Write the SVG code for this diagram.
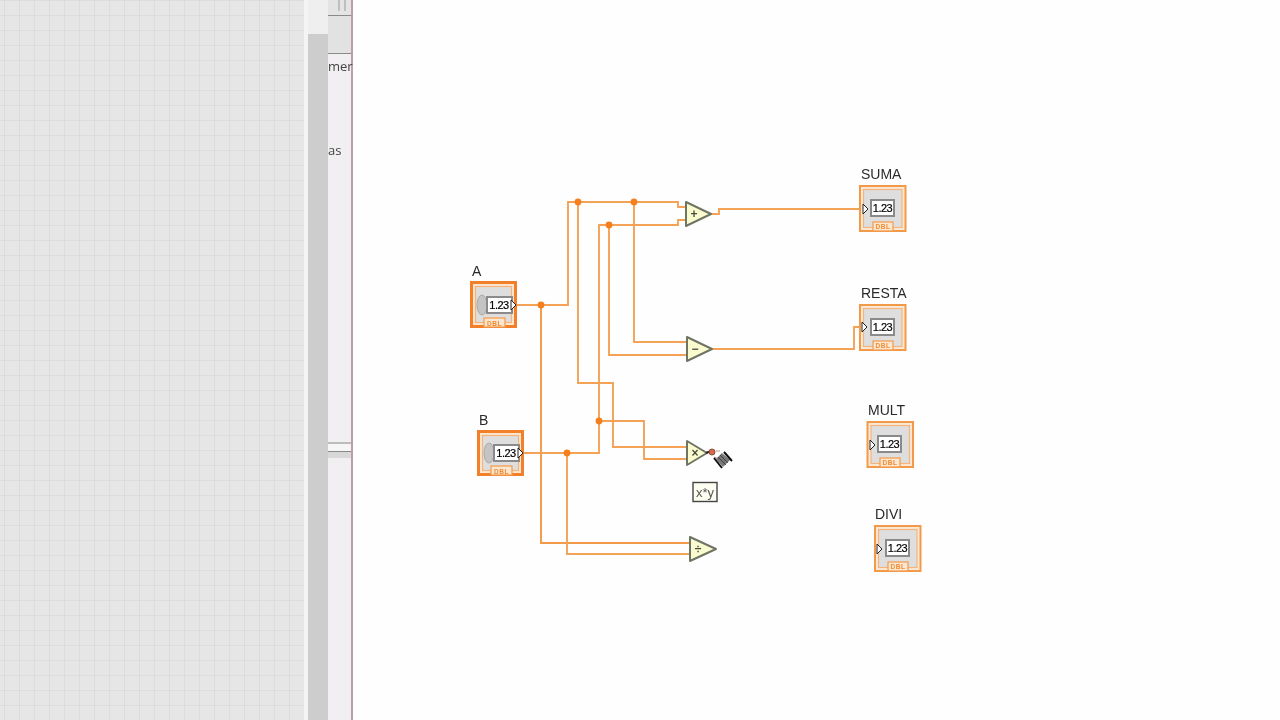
<svg xmlns="http://www.w3.org/2000/svg" width="1280" height="720" viewBox="0 0 1280 720">
<style>
.wire{fill:none;stroke:#f4a257;stroke-width:1.9}
.wire2{fill:none;stroke:#f29a48;stroke-width:1.9}
.dot{fill:#f47f1f}
.prim{fill:#fbfbd0;stroke:#6f7564;stroke-width:2;stroke-linejoin:round}
.sym{font:700 12px "Liberation Sans",sans-serif;fill:#4c4c3c;text-anchor:middle}
.lab{font:14px "Liberation Sans",Arial,sans-serif;fill:#2a2a2a}
.num{font:11px "Liberation Sans",Arial,sans-serif;letter-spacing:-.5px;fill:#000;text-anchor:middle;stroke:#000;stroke-width:.2}
.dbl{font:700 6.500px "Liberation Sans",Arial,sans-serif;fill:#f08a30;text-anchor:middle;letter-spacing:.6px}
.outer{fill:#fbe9d8;stroke:#f39a4a;stroke-width:2}
.outerb{fill:#fbe6d0;stroke:#f2802a;stroke-width:3}
.inner{fill:#dedede;stroke:#f6b47c;stroke-width:1.200}
.box{fill:#fff;stroke:#8a8a8a;stroke-width:2}
.arr{fill:#fff;stroke:#222;stroke-width:1}
.panel{font:13px "Open Sans","Liberation Sans",sans-serif;fill:#444}
.tag{fill:#fbe6d0;stroke:#f39a4a;stroke-width:1.200}
</style>
<defs>
<pattern id="grid" width="15" height="15" patternUnits="userSpaceOnUse" x="4" y="0">
<rect width="15" height="15" fill="#e6e6e6"/>
<path d="M0 0V15M0 0H15" stroke="#dadada" stroke-width="1.600" fill="none"/>
</pattern>
<filter id="soft" x="0" y="0" width="100%" height="100%"><feGaussianBlur stdDeviation="0.4"/></filter>
</defs>
<g filter="url(#soft)">
<rect width="1280" height="720" fill="#fefefe"/>
<rect x="0" y="0" width="304" height="720" fill="url(#grid)"/>
<rect x="304" y="0" width="4" height="720" fill="#f4f4f4"/>
<rect x="308" y="0" width="20" height="34" fill="#efefef"/>
<rect x="308" y="34" width="20" height="686" fill="#cdcdcd"/>
<rect x="328" y="0" width="23" height="720" fill="#f1eff1"/>
<rect x="328" y="0" width="23" height="15" fill="#e4e4e4"/>
<rect x="328" y="16" width="23" height="37" fill="#e2e2e2"/>
<path d="M328 15.500H351M328 53.500H351M328 443H351M328 451.500H351" stroke="#8a8a8a" stroke-width="1" fill="none"/>
<rect x="328" y="444" width="23" height="7" fill="#f6f6f6"/>
<rect x="328" y="452" width="23" height="6" fill="#d8d8d8"/>
<path d="M339 0V11M345 0V11" stroke="#999" stroke-width="1" fill="none"/>
<rect x="351" y="0" width="2" height="720" fill="#bd9dab"/>
<text class="panel" x="328" y="71">mer</text>
<text class="panel" x="328" y="155">as</text>

<g id="connectors">
<path class="wire" d="M516 305H568V202H678V207H686"/>
<path class="wire" d="M578 202V383H613V447H686"/>
<path class="wire" d="M634 202V342H686"/>
<path class="wire2" d="M541 305V543H690"/>
<path class="wire" d="M523 453H599V225H678V220H686"/>
<path class="wire" d="M609 225V355H686"/>
<path class="wire" d="M599 421H644V459H686"/>
<path class="wire" d="M567 453V554H690"/>
<path class="wire" d="M711 214H719V209H862"/>
<path class="wire" d="M712 349H854V327H861"/>
<circle class="dot" cx="541" cy="305" r="3.400"/>
<circle class="dot" cx="578" cy="202" r="3.400"/>
<circle class="dot" cx="634" cy="202" r="3.400"/>
<circle class="dot" cx="609" cy="225" r="3.400"/>
<circle class="dot" cx="599" cy="421" r="3.400"/>
<circle class="dot" cx="567" cy="453" r="3.400"/>
</g>

<g id="A">
<text class="lab" x="472" y="276">A</text>
<rect class="outerb" x="471.500" y="282.500" width="44" height="44"/>
<rect class="inner" x="475.500" y="286.500" width="36" height="36"/>
<ellipse cx="482" cy="305" rx="5" ry="10" fill="#c4c4c4" stroke="#aaa"/>
<rect class="box" x="487" y="297" width="25" height="16"/>
<text class="num" x="499" y="309">1.23</text>
<path class="arr" d="M511 300L516 305L511 310Z"/>
<rect class="tag" x="484" y="318" width="21" height="9"/>
<text class="dbl" x="494.500" y="325.500">DBL</text>
</g>
<g id="B">
<text class="lab" x="479" y="425">B</text>
<rect class="outerb" x="478.500" y="431.500" width="44" height="43"/>
<rect class="inner" x="482.500" y="435.500" width="36" height="35"/>
<ellipse cx="489" cy="453" rx="5" ry="10" fill="#c4c4c4" stroke="#aaa"/>
<rect class="box" x="494" y="445" width="25" height="16"/>
<text class="num" x="506" y="457">1.23</text>
<path class="arr" d="M518 448L523 453L518 458Z"/>
<rect class="tag" x="491" y="466" width="21" height="9"/>
<text class="dbl" x="501.500" y="473.500">DBL</text>
</g>

<g id="SUMA">
<text class="lab" x="861" y="179">SUMA</text>
<rect class="outer" x="860" y="186" width="45.500" height="45"/>
<rect class="inner" x="863.500" y="189.500" width="38.500" height="38"/>
<rect class="box" x="871" y="200" width="23" height="16"/>
<text class="num" x="882.500" y="212">1.23</text>
<path class="arr" d="M863 204L868 209L863 214Z"/>
<rect class="tag" x="873" y="222" width="20" height="9"/>
<text class="dbl" x="883" y="229">DBL</text>
</g>
<g id="RESTA">
<text class="lab" x="861" y="298">RESTA</text>
<rect class="outer" x="860" y="305" width="45.500" height="45"/>
<rect class="inner" x="863.500" y="308.500" width="38.500" height="38"/>
<rect class="box" x="871" y="319" width="23" height="16"/>
<text class="num" x="882.500" y="331">1.23</text>
<path class="arr" d="M862 322L867 327L862 332Z"/>
<rect class="tag" x="873" y="341" width="20" height="9"/>
<text class="dbl" x="883" y="348">DBL</text>
</g>
<g id="MULT">
<text class="lab" x="868" y="415">MULT</text>
<rect class="outer" x="867.500" y="422" width="45.500" height="45"/>
<rect class="inner" x="871" y="425.500" width="38.500" height="38"/>
<rect class="box" x="878" y="436" width="23" height="16"/>
<text class="num" x="889.500" y="448">1.23</text>
<path class="arr" d="M870 440L875 445L870 450Z"/>
<rect class="tag" x="880" y="458" width="20" height="9"/>
<text class="dbl" x="890" y="465">DBL</text>
</g>
<g id="DIVI">
<text class="lab" x="875" y="519">DIVI</text>
<rect class="outer" x="875" y="526" width="45.500" height="45"/>
<rect class="inner" x="878.500" y="529.500" width="38.500" height="38"/>
<rect class="box" x="886" y="540" width="23" height="16"/>
<text class="num" x="897.500" y="552">1.23</text>
<path class="arr" d="M877 544L882 549L877 554Z"/>
<rect class="tag" x="888" y="562" width="20" height="9"/>
<text class="dbl" x="898" y="569">DBL</text>
</g>

<g id="add"><path class="prim" d="M686 202V226L711 214Z"/><text class="sym" x="694" y="218">+</text></g>
<g id="sub"><path class="prim" d="M687 337V361L712 349Z"/><text class="sym" x="695" y="353">−</text></g>
<g id="mul"><path class="prim" d="M687 441V465L707 453Z"/><text class="sym" x="695" y="457">×</text></g>
<g id="div"><path class="prim" d="M690 537V561L716 549Z"/><text class="sym" x="698" y="553">÷</text></g>

<g id="cursor">
<path d="M706 453L711 451" stroke="#222" stroke-width="2" fill="none"/>
<circle cx="712" cy="452" r="3" fill="#d9694a" stroke="#8a4a3a"/>
<path d="M716 451H720M714 457L719 459" stroke="#c98" stroke-width="1" fill="none"/>
<path d="M716 459L723 467L730 460L722 453Z" fill="#777"/>
<path d="M714 458L722 468M724 452L732 461" stroke="#111" stroke-width="2" fill="none"/>
<path d="M718 457L726 465M720 455L728 463" stroke="#333" stroke-width=".8" fill="none"/>
</g>
<g id="tip">
<rect x="693" y="482.500" width="24" height="19" fill="#fdfdf2" stroke="#444" stroke-width="1.400"/>
<text x="705" y="497" font-family="'Liberation Sans',Arial,sans-serif" font-size="13" fill="#555" text-anchor="middle">x*y</text>
</g>
</g>
</svg>
